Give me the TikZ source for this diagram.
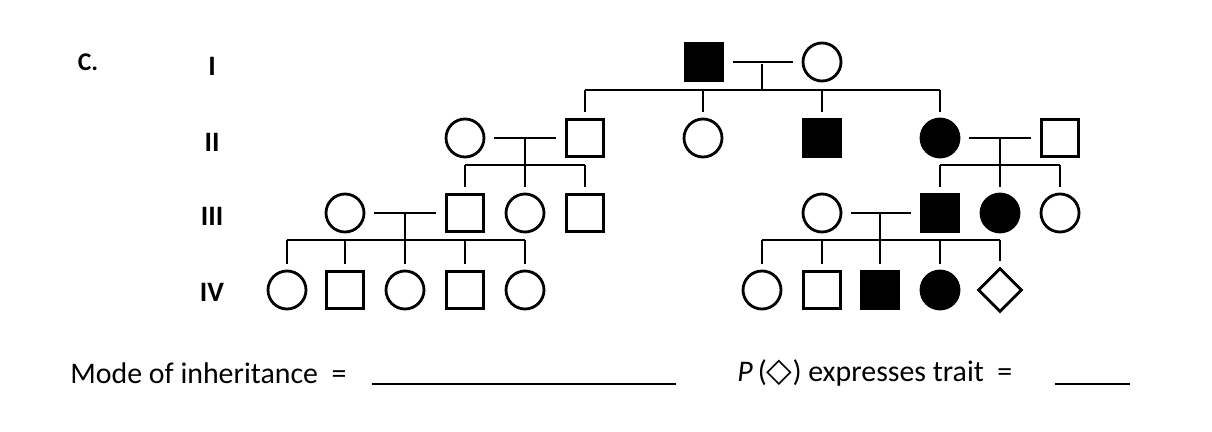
\documentclass[tikz,border=0pt]{standalone}
\usepackage{fontspec}
\setmainfont{Carlito}
\newfontfamily\symf{DejaVu Sans}
\usetikzlibrary{shapes.geometric}
\begin{document}
\begin{tikzpicture}[x=0.02cm,y=-0.02cm,
 m/.style={draw,line width=1.6pt,rectangle,minimum size=0.74cm,inner sep=0},
 f/.style={draw,line width=1.6pt,circle,minimum size=0.76cm,inner sep=0},
 u/.style={draw,line width=1.6pt,diamond,minimum size=0.88cm,inner sep=0},
 aff/.style={fill=black},
 ln/.style={line width=1.1pt},
 mar/.style={ln,shorten <=9*0.02cm,shorten >=9*0.02cm},
 dr/.style={ln,shorten >=6*0.02cm},
 gen/.style={font=\fontsize{16}{18}\selectfont\bfseries},
 txt/.style={font=\fontsize{17}{20}\selectfont,anchor=west,inner sep=0}]
\useasboundingbox (0,0) rectangle (1212,432);
\node[font=\fontsize{14.5}{16}\selectfont\bfseries] (c) at (88,62) {C.};
\node[gen] (g1) at (212,66) {I};
\node[gen] (g2) at (212,142) {II};
\node[gen] (g3) at (212,216) {III};
\node[gen] (g4) at (212,292) {IV};
% I
\node[m,aff] (a1) at (704,62) {}; \node[f] (a2) at (822,62) {};
% II
\node[f] (b1) at (465,138) {}; \node[m] (b2) at (585,138) {};
\node[f] (b3) at (703,138) {}; \node[m,aff] (b4) at (822,138) {};
\node[f,aff] (b5) at (940,138) {}; \node[m] (b6) at (1060,138) {};
% III
\node[f] (c1) at (345,213) {}; \node[m] (c2) at (465,213) {};
\node[f] (c3) at (525,213) {}; \node[m] (c4) at (585,213) {};
\node[f] (c5) at (822,213) {}; \node[m,aff] (c6) at (940,213) {};
\node[f,aff] (c7) at (1000,213) {}; \node[f] (c8) at (1060,213) {};
% IV
\node[f] (d1) at (287,290) {}; \node[m] (d2) at (345,290) {};
\node[f] (d3) at (405,290) {}; \node[m] (d4) at (465,290) {};
\node[f] (d5) at (525,290) {};
\node[f] (d6) at (762,290) {}; \node[m] (d7) at (822,290) {};
\node[m,aff] (d8) at (880,290) {}; \node[f,aff] (d9) at (940,290) {};
\node[u] (d10) at (1000,290) {};
% coordinates
\coordinate (ma) at (762,64); \coordinate (sa) at (762,90);
\coordinate (sa1) at (585,90); \coordinate (sa2) at (940,90);
\coordinate (sa3) at (703,90); \coordinate (sa4) at (822,90);
\coordinate (mb) at (525,139); \coordinate (sb) at (525,165);
\coordinate (sb1) at (465,165); \coordinate (sb2) at (585,165);
\coordinate (mc) at (1000,139); \coordinate (sc) at (1000,165);
\coordinate (sc1) at (940,165); \coordinate (sc2) at (1060,165);
\coordinate (md) at (405,214); \coordinate (sd) at (405,240);
\coordinate (sd1) at (287,240); \coordinate (sd2) at (525,240);
\coordinate (sd3) at (345,240); \coordinate (sd4) at (465,240);
\coordinate (me) at (880,214); \coordinate (se) at (880,240);
\coordinate (se1) at (762,240); \coordinate (se2) at (1000,240);
\coordinate (se3) at (822,240); \coordinate (se4) at (940,240);
\draw[mar] (a1) -- (a2); \draw[ln] (ma) -- (sa); \draw[ln] (sa1) -- (sa2);
\draw[dr] (sa1) -- (b2); \draw[dr] (sa3) -- (b3); \draw[dr] (sa4) -- (b4); \draw[dr] (sa2) -- (b5);
\draw[mar] (b1) -- (b2); \draw[ln] (mb) -- (sb); \draw[ln] (sb1) -- (sb2);
\draw[dr] (sb1) -- (c2); \draw[dr] (sb) -- (c3); \draw[dr] (sb2) -- (c4);
\draw[mar] (b5) -- (b6); \draw[ln] (mc) -- (sc); \draw[ln] (sc1) -- (sc2);
\draw[dr] (sc1) -- (c6); \draw[dr] (sc) -- (c7); \draw[dr] (sc2) -- (c8);
\draw[mar] (c1) -- (c2); \draw[ln] (md) -- (sd); \draw[ln] (sd1) -- (sd2);
\draw[dr] (sd1) -- (d1); \draw[dr] (sd3) -- (d2); \draw[dr] (sd) -- (d3); \draw[dr] (sd4) -- (d4); \draw[dr] (sd2) -- (d5);
\draw[mar] (c5) -- (c6); \draw[ln] (me) -- (se); \draw[ln] (se1) -- (se2);
\draw[dr] (se1) -- (d6); \draw[dr] (se3) -- (d7); \draw[dr] (se) -- (d8); \draw[dr] (se4) -- (d9); \draw[dr] (se2) -- (d10);
\node[txt] (t1) at (70,373) {Mode of inheritance\ \ =};
\coordinate (l1a) at (372,384); \coordinate (l1b) at (676,384);
\draw[line width=1.2pt] (l1a) -- (l1b);
\node[txt] (t2) at (737,373) {\textit{P}\,({\symf\fontsize{19}{20}\selectfont\char"25C7})\ expresses trait\ \ =};
\coordinate (l2a) at (1055,384); \coordinate (l2b) at (1130,384);
\draw[line width=1.2pt] (l2a) -- (l2b);
\end{tikzpicture}
\end{document}
